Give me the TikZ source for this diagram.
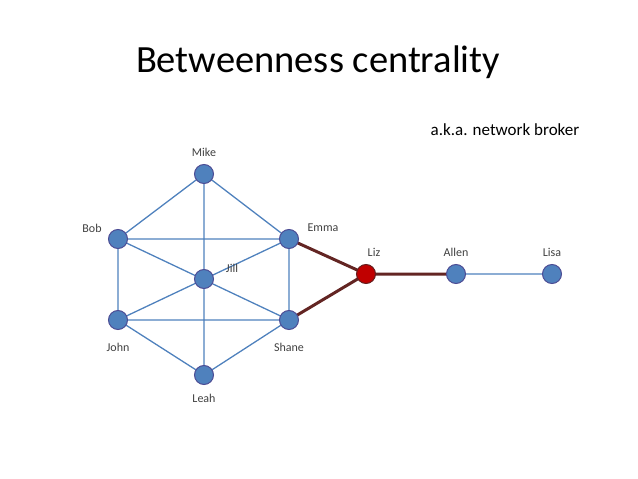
\documentclass[tikz,border=0pt]{standalone}
\usepackage{fontspec}
\setmainfont{Carlito}
\begin{document}
\begin{tikzpicture}[x=1pt,y=-1pt,
  nd/.style={circle,draw=blue!40!black!70,fill={rgb,255:red,79;green,129;blue,189},line width=1pt,minimum size=19pt,inner sep=0pt},
  hub/.style={nd,fill={rgb,255:red,192;green,0;blue,0},draw={rgb,255:red,100;green,30;blue,30}},
  lbl/.style={font=\fontsize{12}{14}\selectfont,text={rgb,255:red,64;green,64;blue,64}},
  ed/.style={draw={rgb,255:red,79;green,129;blue,189},line width=1.3pt},
  br/.style={draw={rgb,255:red,99;green,37;blue,35},line width=3pt}]
\useasboundingbox (0,0) rectangle (638,479);
\node[font=\fontsize{38.5}{44}\selectfont] (title) at (318,62) {Betweenness centrality};
\node[font=\fontsize{17}{20}\selectfont] (aka) at (505,130) {a.k.a. network broker};
\path (204,174) coordinate (cMike) (118,239) coordinate (cBob) (289,239) coordinate (cEmma)
 (204,279) coordinate (cJill) (118,320) coordinate (cJohn) (289,320) coordinate (cShane)
 (204,375) coordinate (cLeah) (366,274) coordinate (cLiz) (456,274) coordinate (cAllen) (552,274) coordinate (cLisa);
\draw[ed] (cMike)--(cBob) (cMike)--(cEmma) (cMike)--(cLeah) (cBob)--(cEmma) (cBob)--(cJohn)
 (cBob)--(cShane) (cEmma)--(cJohn) (cEmma)--(cShane) (cJohn)--(cShane) (cJohn)--(cLeah) (cShane)--(cLeah)
 (cAllen)--(cLisa);
\draw[br] (cEmma)--(cLiz) (cShane)--(cLiz) (cLiz)--(cAllen);
\foreach \n in {Mike,Bob,Emma,Jill,John,Shane,Leah,Allen,Lisa} \node[nd] (\n) at (c\n) {};
\node[hub] (Liz) at (cLiz) {};
\node[lbl] at (204,152) {Mike};
\node[lbl] at (92,228) {Bob};
\node[lbl] at (323,228) {Emma};
\node[lbl] at (232,268) {Jill};
\node[lbl] at (118,347) {John};
\node[lbl] at (289,347) {Shane};
\node[lbl] at (204,398) {Leah};
\node[lbl] at (374,252) {Liz};
\node[lbl] at (456,252) {Allen};
\node[lbl] at (552,252) {Lisa};
\end{tikzpicture}
\end{document}
